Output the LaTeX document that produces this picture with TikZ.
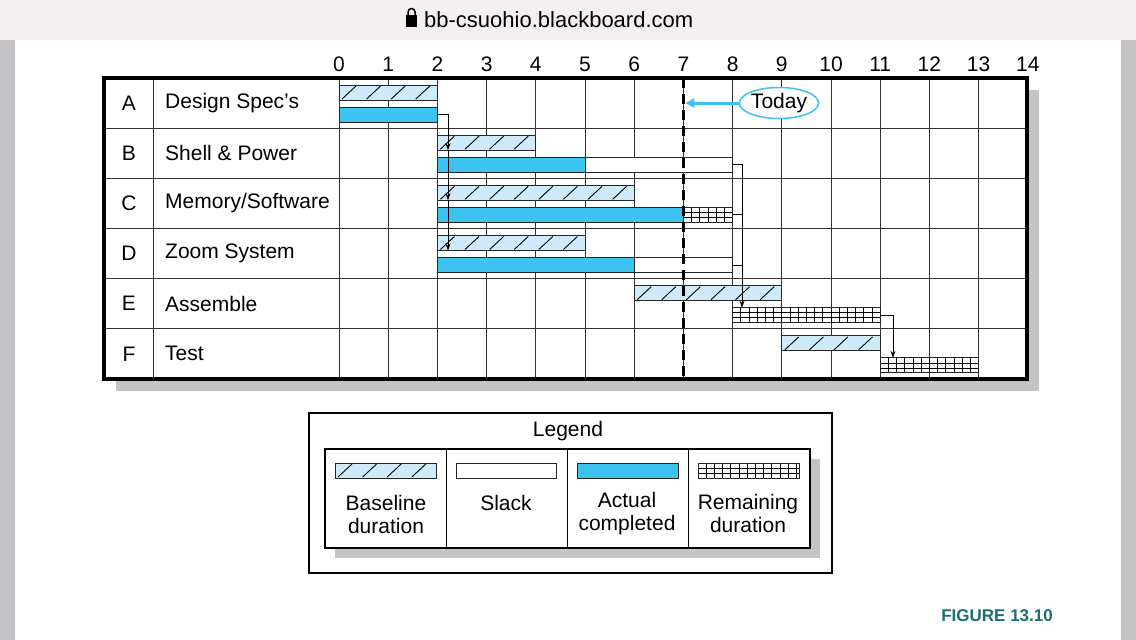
\documentclass[tikz,border=0pt]{standalone}
\usepackage{fontspec}
\setmainfont{Liberation Sans}
\usetikzlibrary{arrows.meta,shapes.geometric}
\definecolor{cyanb}{HTML}{3CC3F0}
\definecolor{hatchc}{HTML}{CDEBFA}
\definecolor{figc}{HTML}{1E6E70}
\definecolor{barc}{HTML}{F4EFF1}
\definecolor{shad}{HTML}{C4C4C6}
\def\cx#1{(339+49.2*(#1))}
\def\ry#1{(78+50.17*(#1))}
\tikzset{
  grid line/.style={line width=0.8pt,black!80},
  bar edge/.style={line width=0.9pt,black!85},
  conn/.style={line width=0.8pt,black},
  arr/.style={conn,-{Stealth[length=7pt,width=5pt]}},
  lbl/.style={font=\fontsize{21}{23}\selectfont,inner sep=0pt},
  leg/.style={font=\fontsize{21}{23}\selectfont,align=center,inner sep=0pt},
}
\newcommand\HBar[3]{%
  \pgfmathsetmacro\xa{#1}\pgfmathsetmacro\xb{#2}\pgfmathsetmacro\ya{#3}\pgfmathsetmacro\yb{#3+15}%
  \fill[hatchc] (\xa,\ya) rectangle (\xb,\yb);
  \begin{scope}\clip (\xa,\ya) rectangle (\xb,\yb);
    \foreach \k in {0,...,40}{\draw[line width=0.9pt] ({\xa+\k*24.6+3},{\yb-1}) -- ++(14,-13);}
  \end{scope}
  \draw[bar edge] (\xa,\ya) rectangle (\xb,\yb);}
\newcommand\BBar[3]{%
  \pgfmathsetmacro\xa{#1}\pgfmathsetmacro\xb{#2}\pgfmathsetmacro\ya{#3}\pgfmathsetmacro\yb{#3+15}%
  \fill[cyanb] (\xa,\ya) rectangle (\xb,\yb);\draw[bar edge] (\xa,\ya) rectangle (\xb,\yb);}
\newcommand\SBar[3]{%
  \pgfmathsetmacro\xa{#1}\pgfmathsetmacro\xb{#2}\pgfmathsetmacro\ya{#3}\pgfmathsetmacro\yb{#3+15}%
  \fill[white] (\xa,\ya) rectangle (\xb,\yb);\draw[bar edge] (\xa,\ya) rectangle (\xb,\yb);}
\newcommand\RBar[3]{%
  \pgfmathsetmacro\xa{#1}\pgfmathsetmacro\xb{#2}\pgfmathsetmacro\ya{#3}\pgfmathsetmacro\yb{#3+15}%
  \fill[white] (\xa,\ya) rectangle (\xb,\yb);
  \begin{scope}\clip (\xa,\ya) rectangle (\xb,\yb);
    \foreach \k in {0,...,40}{\draw[line width=0.7pt] ({\xa+\k*8.2},\ya) -- ++(0,15);}
    \draw[line width=0.7pt] (\xa,{\ya+5}) -- (\xb,{\ya+5}) (\xa,{\ya+10}) -- (\xb,{\ya+10});
  \end{scope}
  \draw[bar edge] (\xa,\ya) rectangle (\xb,\yb);}
\begin{document}
\begin{tikzpicture}[x=1pt,y=-1pt]
\useasboundingbox (0,0) rectangle (1136,640);
\fill[white] (0,0) rectangle (1136,640);
\fill[barc] (0,0) rectangle (1136,40);
\fill[shad] (0,40) rectangle (15,640);
\fill[shad] (1121,40) rectangle (1136,640);
\fill[black] (406,15) rectangle (417,27);
\draw[line width=1.5pt] (408,15) -- (408,12) arc (180:360:3.5) -- (415,15);
\node[lbl,anchor=west,font=\fontsize{22}{24}\selectfont] (url) at (424,20) {bb-csuohio.blackboard.com};
\fill[shad] (116,90) rectangle (1039,391);
\fill[white] (104,78) rectangle (1027,379);
\foreach \i in {1,...,5}{\draw[grid line] (104,{\ry{\i}}) -- (1027,{\ry{\i}});}
\draw[grid line] (153,78) -- (153,379);
\foreach \c in {0,...,13}{\draw[grid line] ({\cx{\c}},78) -- ({\cx{\c}},379);}
\foreach \c in {0,...,14}{\node[lbl] (h\c) at ({\cx{\c}},64) {\c};}
\foreach \l/\n [count=\i from 0] in {A/{Design Spec's},B/{Shell \& Power},C/{Memory/Software},D/{Zoom System},E/{Assemble},F/{Test}}{
  \node[lbl] (L\l) at (129,{\ry{\i}+25}) {\l};
  \node[lbl,anchor=west] (N\l) at (165,{\ry{\i}+25}) {\n};}
\HBar{\cx{0}}{\cx{2}}{\ry{0}+7}
\BBar{\cx{0}}{\cx{2}}{\ry{0}+29}
\HBar{\cx{2}}{\cx{4}}{\ry{1}+7}
\SBar{\cx{5}}{\cx{8}}{\ry{1}+29}
\BBar{\cx{2}}{\cx{5}}{\ry{1}+29}
\HBar{\cx{2}}{\cx{6}}{\ry{2}+7}
\BBar{\cx{2}}{\cx{7}}{\ry{2}+29}
\RBar{\cx{7}}{\cx{8}}{\ry{2}+29}
\HBar{\cx{2}}{\cx{5}}{\ry{3}+7}
\SBar{\cx{6}}{\cx{8}}{\ry{3}+29}
\BBar{\cx{2}}{\cx{6}}{\ry{3}+29}
\HBar{\cx{6}}{\cx{9}}{\ry{4}+7}
\RBar{\cx{8}}{\cx{11}}{\ry{4}+29}
\HBar{\cx{9}}{\cx{11}}{\ry{5}+7}
\RBar{\cx{11}}{\cx{13}}{\ry{5}+29}
\coordinate (aEnd) at ({\cx{2}},{\ry{0}+36.5});
\coordinate (tB) at (448,{\ry{1}+22});
\coordinate (tC) at (448,{\ry{2}+22});
\coordinate (tD) at (448,{\ry{3}+22});
\coordinate (bEnd) at ({\cx{8}},{\ry{1}+36.5});
\coordinate (cEnd) at ({\cx{8}},{\ry{2}+36.5});
\coordinate (dEnd) at ({\cx{8}},{\ry{3}+36.5});
\coordinate (cJ) at (742,{\ry{2}+36.5});
\coordinate (dJ) at (742,{\ry{3}+36.5});
\coordinate (tE) at (742,{\ry{4}+29});
\coordinate (eEnd) at ({\cx{11}},{\ry{4}+36.5});
\coordinate (tF) at (893,{\ry{5}+29});
\draw[arr] (aEnd) -| (tB);
\draw[arr] (tB) -- (tC);
\draw[arr] (tC) -- (tD);
\draw[arr] (bEnd) -| (tE);
\draw[conn] (cEnd) -- (cJ);
\draw[conn] (dEnd) -- (dJ);
\draw[arr] (eEnd) -| (tF);
\draw[line width=3pt,dash pattern=on 10pt off 6pt] ({\cx{7}},78) -- ({\cx{7}},379);
\node[ellipse,draw=cyanb,line width=1.5pt,fill=white,minimum width=76pt,minimum height=31pt,inner sep=0pt,lbl] (today) at (779,103) {Today};
\coordinate (tl) at ({\cx{7}+2},103);
\draw[cyanb,line width=3pt,-{Triangle[length=9pt,width=9pt]}] (today.west) -- (tl);
\draw[line width=4pt] (104,78) rectangle (1027,379);
\draw[line width=2.5pt] (309,413) rectangle (832,573);
\node[leg] (legt) at (568,431) {Legend};
\fill[shad] (335,459) rectangle (820,558);
\fill[white] (325,449) rectangle (810,548);
\draw[line width=0.8pt] (446,449) -- (446,548) (567,449) -- (567,548) (688,449) -- (688,548);
\draw[line width=2.5pt] (325,449) rectangle (810,548);
\HBar{335}{436}{463}
\SBar{456}{556}{463}
\BBar{577}{678}{463}
\RBar{698}{799}{463}
\node[leg] (l1) at (386,514) {Baseline\\duration};
\node[leg] (l2) at (506,503) {Slack};
\node[leg] (l3) at (627,514) {Actual\\completed};
\node[leg] (l4) at (748,513) {Remaining\\duration};
\node[font=\bfseries\fontsize{17}{20}\selectfont,text=figc,anchor=east,inner sep=0pt] (fig) at (1053,616) {FIGURE 13.10};
\end{tikzpicture}
\end{document}
